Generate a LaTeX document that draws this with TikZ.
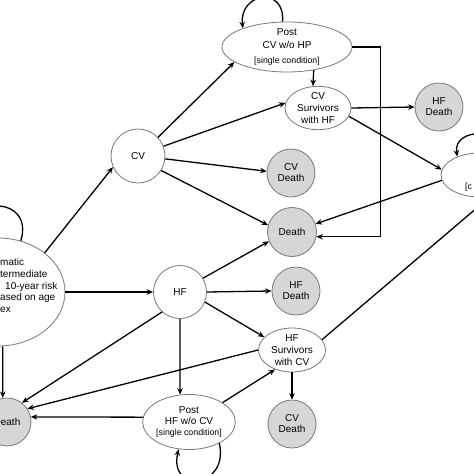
\documentclass[tikz,border=0pt]{standalone}
\usepackage{fontspec}
\setmainfont{Liberation Sans}
\usetikzlibrary{shapes.geometric,arrows.meta}
\definecolor{deathgray}{RGB}{214,214,214}
\definecolor{rimgray}{RGB}{120,120,120}
\tikzstyle{statecircle} = [circle, draw=rimgray, line width=0.8pt, fill=white, inner sep=0pt, minimum size=54pt, align=center, font=\fontsize{10}{11}\selectfont]
\tikzstyle{stateoval} = [ellipse, draw=rimgray, line width=0.8pt, fill=white, inner xsep=0pt, inner ysep=-6pt, align=center, font=\fontsize{10}{12.3}\selectfont]
\tikzstyle{deathcircle} = [statecircle, fill=deathgray, minimum size=48pt]
\tikzstyle{arrow} = [line width=1.3pt, ->, >={Stealth[length=6.5pt,width=5.5pt]}]
\newcommand{\condtext}[1]{{\fontsize{8.8}{10}\selectfont #1}}

\begin{document}
\begin{tikzpicture}[x=1pt,y=-1pt]
	\useasboundingbox (0,0) rectangle (474,474);
	\clip (0,0) rectangle (474,474);
	% states
	\node (start) at (-2,292) [stateoval, minimum width=134pt, minimum height=108pt] {};
	\node (startlabel) at (0,285.5) [anchor=west, inner sep=0pt, align=left, font=\fontsize{10}{11.8}\selectfont] {matic\\termediate\\\hspace{5pt}10-year risk\\ased on age\\ex};
	\node (cv) at (138,156) [statecircle] {CV};
	\node (hf) at (180,292) [statecircle, minimum size=53pt] {HF};
	\node (postcv) at (287,47) [stateoval, minimum width=130pt, minimum height=50pt] {Post\\CV w/o HP\\[3pt]\condtext{[single condition]}};
	\node (cvsurv) at (318,108) [stateoval, minimum width=66pt, minimum height=43.4pt] {CV\\Survivors\\with HF};
	\node (dual) at (480,175) [stateoval, minimum width=78pt, minimum height=44pt] {};
	\node (duallabel) at (465,187) [anchor=west, inner sep=0pt, font=\fontsize{8.8}{10}\selectfont] {[c};
	\node (hfsurv) at (292,350) [stateoval, minimum width=67pt, minimum height=44pt] {HF\\Survivors\\with CV};
	\node (posthf) at (189,422) [stateoval, minimum width=88pt, minimum height=55pt, font=\fontsize{10}{11.3}\selectfont] {Post\\HF w/o CV\\\condtext{[single condition]}};
	% absorbing states
	\node (hfdeathtop) at (439,107) [deathcircle] {HF\\Death};
	\node (cvdeath) at (291,173) [deathcircle] {CV\\Death};
	\node (death) at (292,232) [deathcircle, minimum size=49pt] {Death};
	\node (hfdeath) at (296,291) [deathcircle] {HF\\Death};
	\node (cvdeathbot) at (292,424) [deathcircle] {CV\\Death};
	\node (deathleft) at (7,422) [deathcircle] {Death};
	% self loops
	\draw[arrow] (start.66) .. controls +(14,-45) and +(-14,-45) .. (start.110);
	\draw[arrow] (postcv.100) .. controls +(3,-36) and +(-4,-36) .. (postcv.157);
	\draw[arrow] (dual.39) .. controls +(5,-30) and +(-5,-30) .. (dual.141);
	\draw[arrow] (posthf.325) .. controls +(10,45) and +(-10,45) .. (posthf.249);
	% transitions
	\draw[arrow] (start.40) -- (cv.204);
	\draw[arrow] (start.east) -- (hf.west);
	\draw[arrow] (start.275) -- (deathleft.100);
	\draw[arrow] (cv.43) -- (postcv.196);
	\draw[arrow] (cv.21) -- (cvsurv.171);
	\draw[arrow] (cv.354) -- (cvdeath.176);
	\draw[arrow] (cv.328) -- (death.164);
	\draw[arrow] (postcv.319) -- (cvsurv.103);
	\draw[arrow] (postcv.east) -- ++(28,0) |- (death.349);
	\draw[arrow] (cvsurv.east) -- (hfdeathtop.west);
	\draw[arrow] (cvsurv.345) -- (dual.172);
	\draw[arrow] (dual.188) -- (death.19);
	\draw[arrow] (hf.31) -- (death.202);
	\draw[arrow] (hf.east) -- (hfdeath.west);
	\draw[arrow] (hf.338) -- (hfsurv.155);
	\draw[arrow] (hf.228) -- (deathleft.52);
	\draw[arrow] (hf.south) -- (posthf.108);
	\draw[arrow] (hfsurv.west) -- (deathleft.33);
	\draw[arrow] (hfsurv.south) -- (cvdeathbot.north);
	\draw[arrow] (hfsurv.19) -- (dual.295);
	\draw[arrow] (posthf.174) -- (deathleft.12);
	\draw[arrow] (posthf.30) -- (hfsurv.229);
\end{tikzpicture}
\end{document}
